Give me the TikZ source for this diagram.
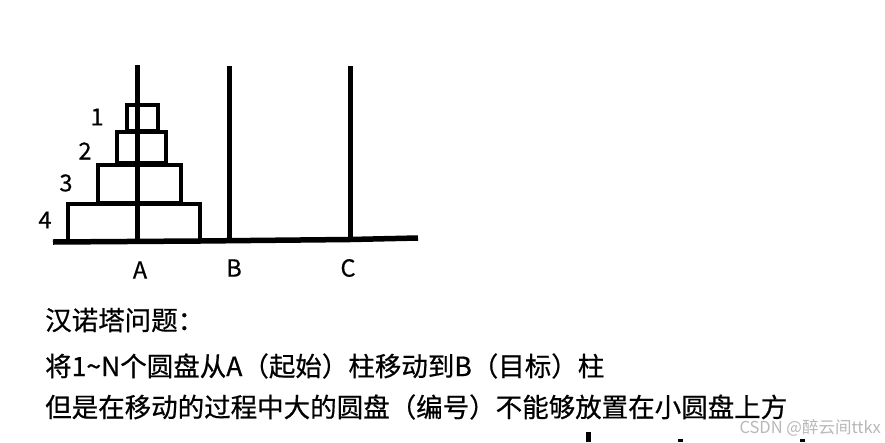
\documentclass[tikz,border=0pt]{standalone}
\usepackage{fontspec}
\setmainfont{Noto Sans CJK SC}
\newfontfamily\cjk[FakeBold=0.6]{Noto Sans CJK SC}
\newfontfamily\wmfont{Noto Sans CJK SC}
\begin{document}
\begin{tikzpicture}[x=1pt,y=-1pt,
  pole/.style={line width=5pt},
  disk/.style={line width=4.8pt},
  baseln/.style={line width=5.5pt},
  lbl/.style={font=\cjk\fontsize{23.5}{26}\selectfont, inner sep=0pt},
  txt/.style={font=\cjk\fontsize{26.5}{30}\selectfont, anchor=west, inner sep=0pt},
  wm/.style={font=\wmfont\fontsize{16.5}{18}\selectfont, text=black!28, anchor=east, inner sep=0pt}]
\useasboundingbox (0,0) rectangle (885,442);
\fill[white] (0,0) rectangle (885,442);
% base
\coordinate (b0) at (53,242);
\coordinate (b1) at (200,241);
\coordinate (b2) at (350,239.5);
\coordinate (b3) at (418,238);
\draw[baseln] (b0) -- (b1) -- (b2) -- (b3);
% disks
\draw[disk] (68,204) rectangle (200,241);
\draw[disk] (98,165) rectangle (181,203);
\draw[disk] (117,132) rectangle (166,163);
\draw[disk] (127,105) rectangle (158,131);
% poles
\coordinate (pa) at (137,65);  \coordinate (pa0) at (137,241);
\coordinate (pb) at (229.5,66);  \coordinate (pb0) at (229.5,240);
\coordinate (pc) at (350,66);  \coordinate (pc0) at (350,239);
\draw[pole] (pa) -- (pa0);
\draw[pole] (pb) -- (pb0);
\draw[pole] (pc) -- (pc0);
% labels
\node[lbl] (n1) at (97,117) {1};
\node[lbl] (n2) at (85,151) {2};
\node[lbl] (n3) at (66,183) {3};
\node[lbl] (n4) at (45,220) {4};
\node[lbl] (la) at (140,270) {A};
\node[lbl] (lb) at (234,268) {B};
\node[lbl] (lc) at (348,268) {C};
% text
\node[txt] (t1) at (45,320) {汉诺塔问题：};
\node[txt] (t2) at (45,366) {将1\textasciitilde N个圆盘从A（起始）柱移动到B（目标）柱};
\node[txt] (t3) at (45,407) {但是在移动的过程中大的圆盘（编号）不能够放置在小圆盘上方};
\node[wm] (w) at (881,428) {CSDN @醉云间ttkx};
% bottom marks
\fill (586,432) rectangle (591,442);
\fill (678,439) rectangle (683,442);
\fill (800,439) rectangle (805,442);
\end{tikzpicture}
\end{document}
